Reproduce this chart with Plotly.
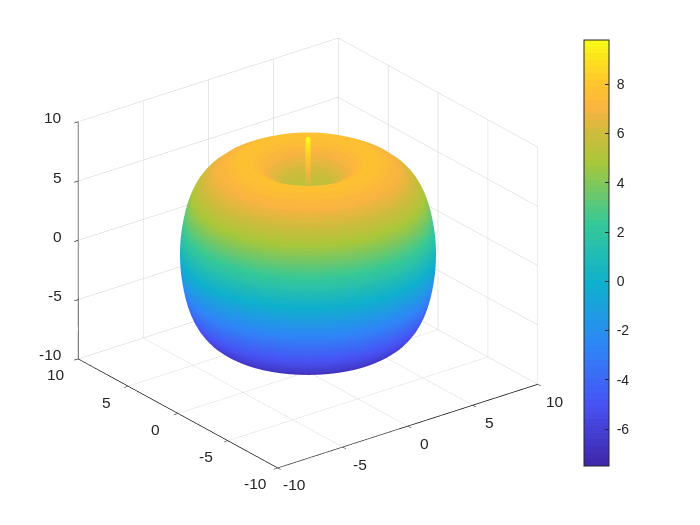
import numpy as np
import plotly.graph_objects as go

# profile of the surface of revolution (radius, height)
radius = [0.0, 1.5, 3.0, 4.0, 4.6, 5.0, 5.4, 5.75, 6.05, 6.35, 6.6, 6.85, 7.05, 7.22, 7.37, 7.5, 7.6, 7.68, 7.74, 7.78, 7.8, 7.81,
          7.8, 7.78, 7.74, 7.68, 7.6, 7.5, 7.37, 7.22, 7.05, 6.85, 6.6, 6.35, 6.05, 5.75, 5.4, 5.0, 4.6, 4.2, 3.9, 3.6, 3.3, 3.0, 2.4, 2.0, 1.7, 1.3, 1.0, 0.5, 0.2,
          0.17, 0.17, 0.16, 0.14, 0.0]
height = [-7.5, -7.5, -7.47, -7.42, -7.36, -7.28, -7.14, -6.95, -6.7, -6.38, -6.02, -5.57, -5.1, -4.6, -4.05, -3.45, -2.85, -2.25, -1.7, -1.2, -0.65, -0.13,
          0.39, 0.94, 1.44, 1.99, 2.59, 3.19, 3.79, 4.34, 4.84, 5.31, 5.76, 6.12, 6.44, 6.75, 7.0, 7.25, 7.5, 7.7, 7.85, 7.75, 7.56, 7.34, 6.8, 6.35, 6.0, 5.7, 5.5, 5.25, 5.15,
          6.5, 8.0, 9.2, 9.7, 9.8]
ticks_xyz = [-10, -5, 0, 5, 10]
ticks_cbar = [-6, -4, -2, 0, 2, 4, 6, 8]
parula_anchors = [(62, 38, 168), (72, 82, 244), (46, 135, 247), (15, 176, 205),
                  (55, 200, 151), (171, 199, 57), (205, 187, 60), (250, 180, 65), (255, 197, 45), (249, 251, 21)]
parula_stops = [0, 1 / 7, 2 / 7, 3 / 7, 4 / 7, 5 / 7, 0.78, 0.84, 0.9, 1]

# 64 step colour map
n = 64
a = np.array(parula_anchors, float)
cols = [[np.interp((i + .5) / n, parula_stops, a[:, k]) for k in range(3)] for i in range(n)]
cs = []
for i, c in enumerate(cols):
    s = f"rgb({c[0]:.0f},{c[1]:.0f},{c[2]:.0f})"
    cs += [[i / n, s], [(i + 1) / n, s]]

th = np.linspace(0, 2 * np.pi, 181)
R, T = np.meshgrid(radius, th)
Z = np.tile(height, (len(th), 1))
X = R * np.cos(T)
Y = R * np.sin(T)

fig = go.Figure(go.Surface(
    x=X, y=Y, z=Z, surfacecolor=Z, colorscale=cs, cmin=min(height), cmax=max(height),
    lighting=dict(ambient=1, diffuse=0, specular=0, fresnel=0, roughness=1),
    hoverinfo="skip",
    contours=dict(x=dict(highlight=False), y=dict(highlight=False), z=dict(highlight=False)),
    colorbar=dict(
        x=576 / 700, xanchor="left", xpad=0, y=1 - 32 / 525, yanchor="top", ypad=0,
        lenmode="pixels", len=426, thicknessmode="pixels", thickness=25,
        outlinecolor="#262626", outlinewidth=1, ticks="inside", ticklen=4, tickcolor="#262626",
        tickvals=ticks_cbar, ticktext=[f"\u00a0{v}" for v in ticks_cbar],
        tickfont=dict(family="Liberation Sans", size=14, color="#262626"),
    ),
))
ax = dict(
    range=[-10, 10], tickvals=ticks_xyz, showticklabels=False, title="",
    showbackground=False,
    gridcolor="#cfcfcf", gridwidth=1, zeroline=False, showline=True, linecolor="#000000", linewidth=1.5,
    ticks="outside", ticklen=5, tickcolor="#262626", tickwidth=1.5, showspikes=False,
)
font = dict(family="Liberation Sans", size=15.5, color="#262626")
labels = []
for v in ticks_xyz:
    labels.append(dict(x=-10, y=10, z=v, text=str(v), showarrow=False, xanchor="right", yanchor="middle",
                       xshift=-14, yshift=4, font=font))
    labels.append(dict(x=-10, y=v, z=-10, text=str(v), showarrow=False, xanchor="center", yanchor="middle",
                       xshift=-22, yshift=-16, font=font))
    labels.append(dict(x=v, y=-10, z=-10, text=str(v), showarrow=False, xanchor="center", yanchor="middle",
                       xshift=17, yshift=-17, font=font))
d = 2.0
el = np.radians(24.8)
az = np.radians(37.5)
k = 1.338
fig.update_layout(
    width=700, height=525, paper_bgcolor="white", margin=dict(l=0, r=0, t=0, b=0, autoexpand=False),
    scene=dict(
        domain=dict(x=[0, 600 / 700], y=[35 / 525, 1]),
        xaxis=ax, yaxis=ax, zaxis=ax, annotations=labels,
        aspectmode="manual", aspectratio=dict(x=k, y=k, z=0.797 * k),
        camera=dict(projection=dict(type="orthographic"),
                    center=dict(x=0, y=0, z=0), up=dict(x=0, y=0, z=1),
                    eye=dict(x=-d * np.sin(az) * np.cos(el), y=-d * np.cos(az) * np.cos(el), z=d * np.sin(el))),
    ),
)
fig.write_html("out.html")
